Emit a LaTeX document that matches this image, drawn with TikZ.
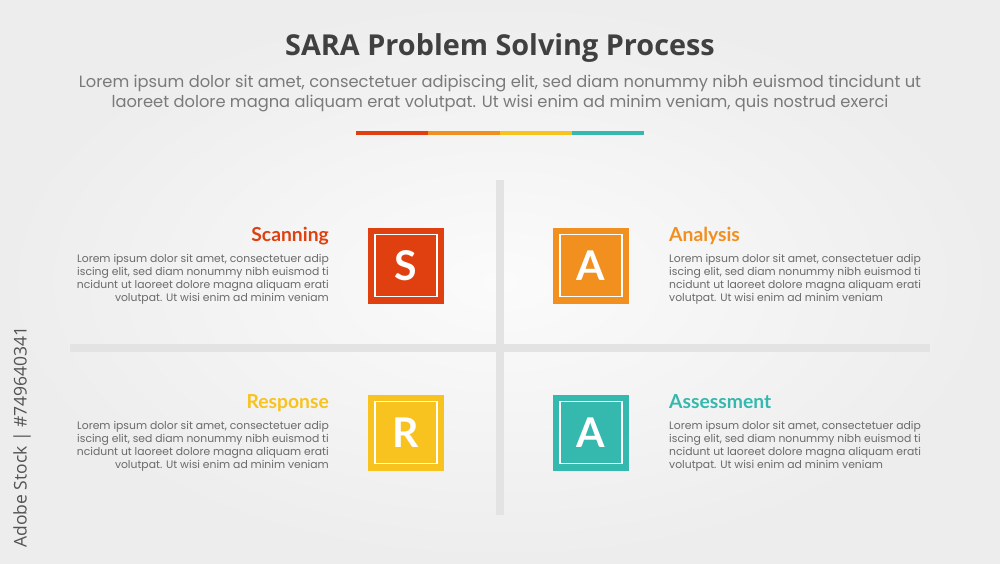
\documentclass[tikz,border=0pt]{standalone}
\usepackage{fontspec}
\setmainfont{Poppins}
\newfontfamily\titlefont{Open Sans}
\newfontfamily\headfont{Lato}
\definecolor{sred}{HTML}{E0400F}
\definecolor{sorange}{HTML}{F18F1F}
\definecolor{syellow}{HTML}{F8C31E}
\definecolor{steal}{HTML}{35B8AD}
\definecolor{bgout}{HTML}{EDEDED}
\definecolor{bgin}{HTML}{FBFBFB}
\definecolor{crossgray}{HTML}{E3E3E3}
\definecolor{titlegray}{HTML}{404040}
\definecolor{subgray}{HTML}{7A7A7A}
\definecolor{bodygray}{HTML}{6A6A6A}
\tikzset{
  letterbox/.style={minimum width=76pt, minimum height=76pt, inner sep=0pt, fill=#1, text=white,
    font=\headfont\bfseries\fontsize{41}{41}\selectfont,
    path picture={\draw[white, line width=1.5pt] ([shift={(7pt,-7pt)}]path picture bounding box.north west) rectangle ([shift={(-7pt,7pt)}]path picture bounding box.south east);}},
  headl/.style={anchor=base east, inner sep=0pt, text=#1, font=\headfont\bfseries\fontsize{19.3}{21}\selectfont},
  headr/.style={anchor=base west, inner sep=0pt, text=#1, font=\headfont\bfseries\fontsize{19.3}{21}\selectfont},
  bodyl/.style={anchor=north east, inner sep=0pt, align=right, text=bodygray, font=\fontsize{10.8}{13}\selectfont},
  bodyr/.style={anchor=north west, inner sep=0pt, align=left, text=bodygray, font=\fontsize{10.8}{13}\selectfont},
  crossline/.style={draw=crossgray, line width=8pt},
  barseg/.style={line width=4pt}
}
\begin{document}
\begin{tikzpicture}[x=1pt,y=-1pt]
\useasboundingbox (0,0) rectangle (1000,563);
\path[inner color=bgin, outer color=bgout] (0,0) rectangle (1000,563);
% title
\node[text=titlegray, font=\titlefont\bfseries\fontsize{28.8}{32}\selectfont, anchor=base] (title) at (500,55) {SARA Problem Solving Process};
\node[text=subgray, font=\fontsize{16.3}{19.5}\selectfont, align=center, anchor=north] (sub) at (500,72)
 {Lorem ipsum dolor sit amet, consectetuer adipiscing elit, sed diam nonummy nibh euismod tincidunt ut\\laoreet dolore magna aliquam erat volutpat. Ut wisi enim ad minim veniam, quis nostrud exerci};
% color bar
\draw[barseg, sred] (356,132.5) -- (428,132.5);
\draw[barseg, sorange] (428,132.5) -- (500,132.5);
\draw[barseg, syellow] (500,132.5) -- (572,132.5);
\draw[barseg, steal] (572,132.5) -- (644,132.5);
% cross
\coordinate (vt) at (500,180);
\coordinate (vb) at (500,515);
\coordinate (hl) at (70,348);
\coordinate (hr) at (930,348);
\draw[crossline] (vt) -- (vb);
\draw[crossline] (hl) -- (hr);
% boxes
\node[letterbox=sred] (S) at (406,265.5) {S};
\node[letterbox=sorange] (A1) at (591,265.5) {A};
\node[letterbox=syellow] (R) at (406,432.5) {R};
\node[letterbox=steal] (A2) at (591,432.5) {A};
% headings
\node[headl=sred] (hS) at (329,241) {Scanning};
\node[headr=sorange] (hA1) at (669,241) {Analysis};
\node[headl=syellow] (hR) at (329,408) {Response};
\node[headr=steal] (hA2) at (669,408) {Assessment};
% bodies
\node[bodyl] (bS) at (329,254.5) {Lorem ipsum dolor sit amet, consectetuer adip\\iscing elit, sed diam nonummy nibh euismod ti\\ncidunt ut laoreet dolore magna aliquam erati\\volutpat. Ut wisi enim ad minim veniam};
\node[bodyr] (bA1) at (669,254.5) {Lorem ipsum dolor sit amet, consectetuer adip\\iscing elit, sed diam nonummy nibh euismod ti\\ncidunt ut laoreet dolore magna aliquam erati\\volutpat. Ut wisi enim ad minim veniam};
\node[bodyl] (bR) at (329,421.5) {Lorem ipsum dolor sit amet, consectetuer adip\\iscing elit, sed diam nonummy nibh euismod ti\\ncidunt ut laoreet dolore magna aliquam erati\\volutpat. Ut wisi enim ad minim veniam};
\node[bodyr] (bA2) at (669,421.5) {Lorem ipsum dolor sit amet, consectetuer adip\\iscing elit, sed diam nonummy nibh euismod ti\\ncidunt ut laoreet dolore magna aliquam erati\\volutpat. Ut wisi enim ad minim veniam};
% side stock text
\node[rotate=90, text=titlegray!90, font=\titlefont\fontsize{17.5}{19}\selectfont] (stock) at (22,437) {Adobe Stock | \#749640341};
\end{tikzpicture}
\end{document}
